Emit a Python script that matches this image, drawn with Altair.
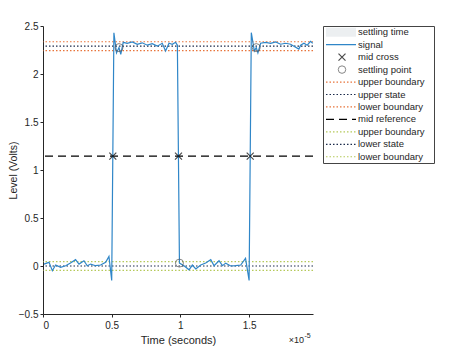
import altair as alt
import pandas as pd

# ---- data (time in units of 1e-5 s, level in volts) ----
time_vals = [0.007, 0.044, 0.068, 0.092, 0.128, 0.165, 0.200, 0.237, 0.262, 0.298, 0.322, 0.347,
             0.383, 0.419, 0.456, 0.480, 0.500, 0.516, 0.535, 0.553, 0.566, 0.584, 0.613, 0.650,
             0.686, 0.722, 0.759, 0.795, 0.832, 0.868, 0.892, 0.917, 0.941, 0.965, 0.978, 0.993,
             1.026, 1.063, 1.087, 1.112, 1.148, 1.184, 1.221, 1.245, 1.281, 1.306, 1.330, 1.366,
             1.403, 1.439, 1.474, 1.500, 1.516, 1.538, 1.552, 1.564, 1.584, 1.620, 1.657, 1.693,
             1.729, 1.766, 1.802, 1.826, 1.862, 1.875, 1.899, 1.923, 1.947, 1.963]
level_vals = [0.020, 0.038, -0.049, 0.010, -0.014, 0.003, 0.031, 0.066, 0.020, 0.055, 0.003, 0.020,
              0.003, 0.010, 0.038, 0.100, -0.150, 2.430, 2.220, 2.275, 2.205, 2.330, 2.320, 2.335,
              2.310, 2.325, 2.300, 2.315, 2.290, 2.320, 2.240, 2.320, 2.310, 2.330, 2.300, 0.030,
              0.003, -0.040, 0.010, -0.030, 0.010, 0.031, 0.066, 0.003, 0.055, 0.003, 0.030, 0.000,
              0.003, 0.010, 0.080, -0.150, 2.430, 2.240, 2.275, 2.220, 2.320, 2.330, 2.320, 2.335,
              2.310, 2.320, 2.310, 2.290, 2.260, 2.300, 2.320, 2.300, 2.340, 2.320]

mid_cross_t = [0.508, 0.986, 1.508]
mid_cross_v = [1.145, 1.145, 1.145]
settle_t = [0.553, 0.993, 1.552]
settle_v = [2.275, 0.030, 2.275]

legend_keys = ["settling time", "signal", "mid cross", "settling point", "upper boundary",
               "upper state", "lower boundary", "mid reference", "upper boundary ",
               "lower state", "lower boundary "]
legend_kinds = ["patch", "line", "cross", "circle", "line", "line", "line", "line", "line",
                "line", "line"]
level_names = ["upper boundary", "upper state", "lower boundary", "mid reference",
               "upper boundary ", "lower state", "lower boundary "]
level_values = [2.336, 2.290, 2.244, 1.145, 0.046, 0.000, -0.046]

xticks = [0, 0.5, 1, 1.5]
yticks = [-0.5, 0, 0.5, 1, 1.5, 2, 2.5]

# ---- styling ----
FONT = "Liberation Sans"
TXT = "#262626"
SIG = "#2f86c8"
colors = ["#eceff1", SIG, "#000000", "#555555", "#e8743b", "#1b2a4a", "#e8743b", "#000000",
          "#b5c95a", "#1b2a4a", "#b5c95a"]
dashes = [[1, 0], [1, 0], [1, 0], [1, 0], [1.5, 2], [1.5, 2], [1.5, 2], [8, 5], [1.5, 2],
          [1.5, 2], [1.5, 2]]
XPATH = "M-1,-1L1,1M-1,1L1,-1"

color_scale = alt.Scale(domain=legend_keys, range=colors)
dash_scale = alt.Scale(domain=legend_keys, range=dashes)

sig_df = pd.DataFrame({"t": time_vals, "v": level_vals})
lev_df = pd.DataFrame({"name": level_names, "v": level_values})
mc_df = pd.DataFrame({"t": mid_cross_t, "v": mid_cross_v})
sp_df = pd.DataFrame({"t": settle_t, "v": settle_v})

xs = alt.Scale(domain=[0, 1.965], nice=False, zero=False)
ys = alt.Scale(domain=[-0.5, 2.5], nice=False, zero=False)
xax = alt.Axis(values=xticks, format="~g", title="Time (seconds)", grid=False,
               tickSize=3, labelPadding=3, titlePadding=4, titleFontSize=11,
               titleFontWeight="normal")
yax = alt.Axis(values=yticks, format="~g", title="Level (Volts)", grid=False,
               tickSize=3, labelPadding=2, titlePadding=0, titleFontSize=10.5,
               titleFontWeight="normal")

rules = alt.Chart(lev_df).mark_rule(strokeWidth=1.2).encode(
    y=alt.Y("v:Q", scale=ys, axis=yax),
    color=alt.Color("name:N", scale=color_scale, legend=None),
    strokeDash=alt.StrokeDash("name:N", scale=dash_scale, legend=None),
)
signal = alt.Chart(sig_df).mark_line(color=SIG, strokeWidth=1.2, clip=True).encode(
    x=alt.X("t:Q", scale=xs, axis=xax),
    y=alt.Y("v:Q", scale=ys, axis=yax),
)
crosses = alt.Chart(mc_df).mark_point(shape=XPATH, size=49, color="black", filled=False,
                                      strokeWidth=1.2).encode(
    x=alt.X("t:Q", scale=xs), y=alt.Y("v:Q", scale=ys))
circles = alt.Chart(sp_df).mark_point(shape="circle", size=64, color="#555555", filled=False,
                                      strokeWidth=1).encode(
    x=alt.X("t:Q", scale=xs), y=alt.Y("v:Q", scale=ys))
exp_base = alt.Chart(pd.DataFrame({"s": ["×10"]})).mark_text(
    align="right", baseline="middle", fontSize=9, font=FONT, color=TXT).encode(
    x=alt.value(261), y=alt.value(314), text="s:N")
exp_sup = alt.Chart(pd.DataFrame({"s": ["-5"]})).mark_text(
    align="left", baseline="middle", fontSize=7, font=FONT, color=TXT).encode(
    x=alt.value(261.5), y=alt.value(310), text="s:N")

main = alt.layer(rules, signal, crosses, circles, exp_base, exp_sup).properties(
    width=270, height=288)

# ---- legend panel ----
leg_df = pd.DataFrame({"name": legend_keys, "kind": legend_kinds,
                       "label": [k.strip() for k in legend_keys]})
ly = alt.Y("name:N", sort=legend_keys, scale=alt.Scale(type="point", padding=0.5), axis=None)
lbase = alt.Chart(leg_df)
l_patch = lbase.transform_filter(alt.datum.kind == "patch").mark_rule(
    strokeWidth=9, color="#eceff1").encode(y=ly, x=alt.value(3), x2=alt.value(33))
l_line = lbase.transform_filter(alt.datum.kind == "line").mark_rule(strokeWidth=1.2).encode(
    y=ly, x=alt.value(3), x2=alt.value(33),
    color=alt.Color("name:N", scale=color_scale, legend=None),
    strokeDash=alt.StrokeDash("name:N", scale=dash_scale, legend=None))
l_cross = lbase.transform_filter(alt.datum.kind == "cross").mark_point(
    shape=XPATH, size=49, color="black", filled=False, strokeWidth=1.2).encode(
    y=ly, x=alt.value(19))
l_circ = lbase.transform_filter(alt.datum.kind == "circle").mark_point(
    shape="circle", size=56, color="#555555", filled=False, strokeWidth=1).encode(
    y=ly, x=alt.value(19))
l_text = lbase.mark_text(align="left", baseline="middle", fontSize=9.5, font=FONT,
                         color=TXT).encode(y=ly, x=alt.value(35), text="label:N")
legend = alt.layer(l_patch, l_line, l_cross, l_circ, l_text).properties(
    width=111, height=137,
    view=alt.ViewBackground(stroke="#444444", strokeWidth=1, fill="white"))

chart = alt.hconcat(main, legend, spacing=10, bounds="flush").properties(
    padding={"left": 0, "top": 13, "right": 5, "bottom": 5}
).configure_view(stroke=None).configure_axis(
    labelFont=FONT, titleFont=FONT, labelFontSize=10, labelColor=TXT, titleColor=TXT,
    domainColor=TXT, tickColor=TXT
)

chart.save("out.html", embed_options={"renderer": "svg", "actions": False})
